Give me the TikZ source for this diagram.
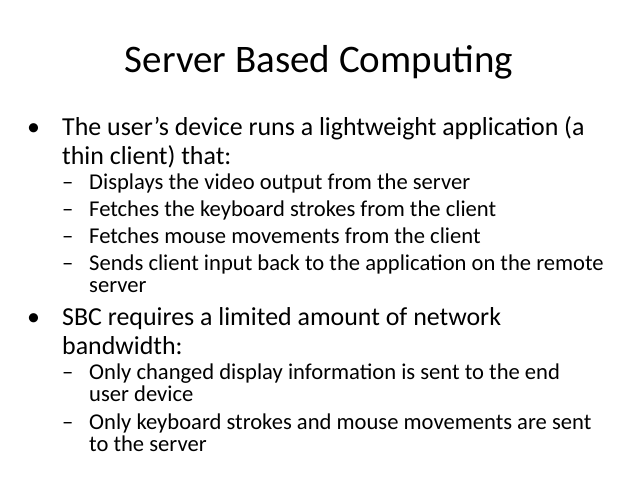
\documentclass[tikz,border=0pt]{standalone}
\usepackage{fontspec}
\setmainfont{Carlito}
\begin{document}
\begin{tikzpicture}[x=1pt,y=-1pt,
  t/.style={anchor=mid west,inner sep=0pt,font=\fontsize{25.9}{26}\selectfont},
  s/.style={anchor=mid west,inner sep=0pt,font=\fontsize{22.6}{23}\selectfont}]
\useasboundingbox[fill=white] (0,0) rectangle (638,478);
\node[anchor=mid,inner sep=0pt,font=\fontsize{39}{39}\selectfont] (title) at (319,70) {Server Based Computing};
\node[t] (b1) at (27,133) {•};
\node[t] (l1) at (62,133) {The user’s device runs a lightweight application (a};
\node[t] (l2) at (62,162) {thin client) that:};
\node[s] (d1) at (62,187) {–}; \node[s] (s1) at (89,187) {Displays the video output from the server};
\node[s] (d2) at (62,214) {–}; \node[s] (s2) at (89,214) {Fetches the keyboard strokes from the client};
\node[s] (d3) at (62,241) {–}; \node[s] (s3) at (89,241) {Fetches mouse movements from the client};
\node[s] (d4) at (62,268) {–}; \node[s] (s4) at (89,268) {Sends client input back to the application on the remote};
\node[s] (s5) at (89,290) {server};
\node[t] (b2) at (27,323) {•};
\node[t] (l3) at (62,323) {SBC requires a limited amount of network};
\node[t] (l4) at (62,352) {bandwidth:};
\node[s] (d5) at (62,377) {–}; \node[s] (s6) at (89,377) {Only changed display information is sent to the end};
\node[s] (s7) at (89,399) {user device};
\node[s] (d6) at (62,427) {–}; \node[s] (s8) at (89,427) {Only keyboard strokes and mouse movements are sent};
\node[s] (s9) at (89,449) {to the server};
\end{tikzpicture}
\end{document}
